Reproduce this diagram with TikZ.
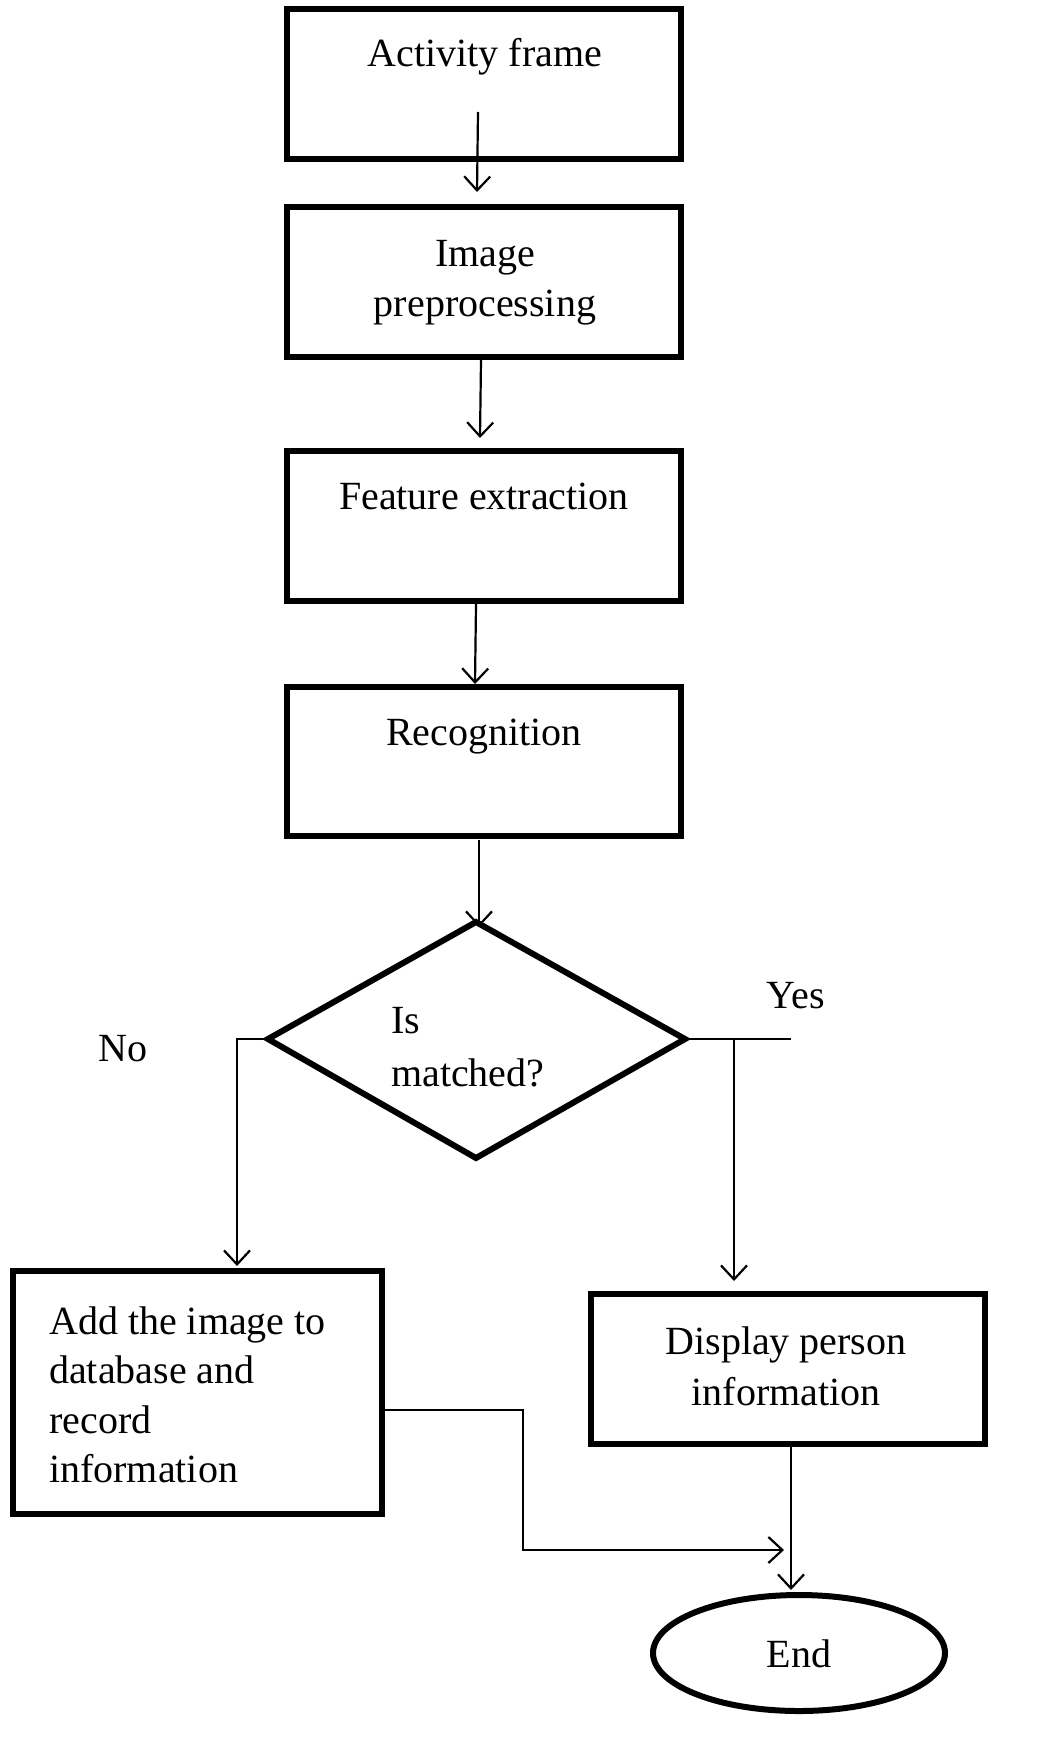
\documentclass[tikz,border=0pt]{standalone}
\usepackage{fontspec}
\setmainfont{Liberation Serif}
\usetikzlibrary{arrows.meta,shapes.geometric}
\begin{document}
\begin{tikzpicture}[x=1pt,y=-1pt,
  box/.style={draw,line width=6pt,inner sep=0pt},
  lbl/.style={font=\fontsize{40}{52}\selectfont,inner sep=0pt,anchor=base},
  arr/.style={line width=2.2pt,-{Straight Barb[length=14pt,width=26pt,line width=2.2pt]}},
  ln/.style={line width=2pt}]
\useasboundingbox (0,0) rectangle (1044,1755);
\draw[box] (287,9) rectangle (681,159);
\draw[box] (287,207) rectangle (681,357);
\draw[box] (287,451) rectangle (681,601);
\draw[box] (287,687) rectangle (681,836);
\draw[box] (13,1271) rectangle (382,1514);
\draw[box] (591,1294) rectangle (985,1444);
\draw[box] (476,922) -- (685,1039) -- (476,1158) -- (268,1039) -- cycle;
\draw[line width=6pt] (799,1653) ellipse (146 and 58);
\node[lbl] (t1) at (485,67) {Activity frame};
\node[lbl] (t2a) at (485,266) {Image};
\node[lbl] (t2b) at (485,316) {preprocessing};
\node[lbl] (t3) at (484,509) {Feature extraction};
\node[lbl] (t4) at (484,745) {Recognition};
\node[lbl,anchor=base west] (t5a) at (391,1033) {Is};
\node[lbl,anchor=base west] (t5b) at (391,1086) {matched?};
\node[lbl] (no) at (123,1061) {No};
\node[lbl] (yes) at (796,1008) {Yes};
\node[lbl,anchor=base west] (l1) at (49,1334) {Add the image to};
\node[lbl,anchor=base west] (l2) at (49,1383) {database and};
\node[lbl,anchor=base west] (l3) at (49,1433) {record};
\node[lbl,anchor=base west] (l4) at (49,1482) {information};
\node[lbl] (r1) at (786,1354) {Display person};
\node[lbl] (r2) at (786,1405) {information};
\node[lbl] (e) at (799,1667) {End};
\coordinate (a1) at (478,112); \coordinate (b1) at (477,192);
\coordinate (a2) at (481,360); \coordinate (b2) at (480,438);
\coordinate (a3) at (476,604); \coordinate (b3) at (475,684);
\coordinate (a4) at (479,840); \coordinate (b4) at (479,927);
\draw[arr] (a1) -- (b1);
\draw[arr] (a2) -- (b2);
\draw[arr] (a3) -- (b3);
\draw[arr] (a4) -- (b4);
\coordinate (dl) at (268,1039); \coordinate (dr) at (685,1039);
\draw[arr] (dl) -- (237,1039) -- (237,1266);
\draw[ln] (dr) -- (791,1039);
\draw[arr] (734,1039) -- (734,1281);
\draw[arr] (385,1410) -- (523,1410) -- (523,1550) -- (784,1550);
\draw[arr] (791,1447) -- (791,1590);
\end{tikzpicture}
\end{document}
